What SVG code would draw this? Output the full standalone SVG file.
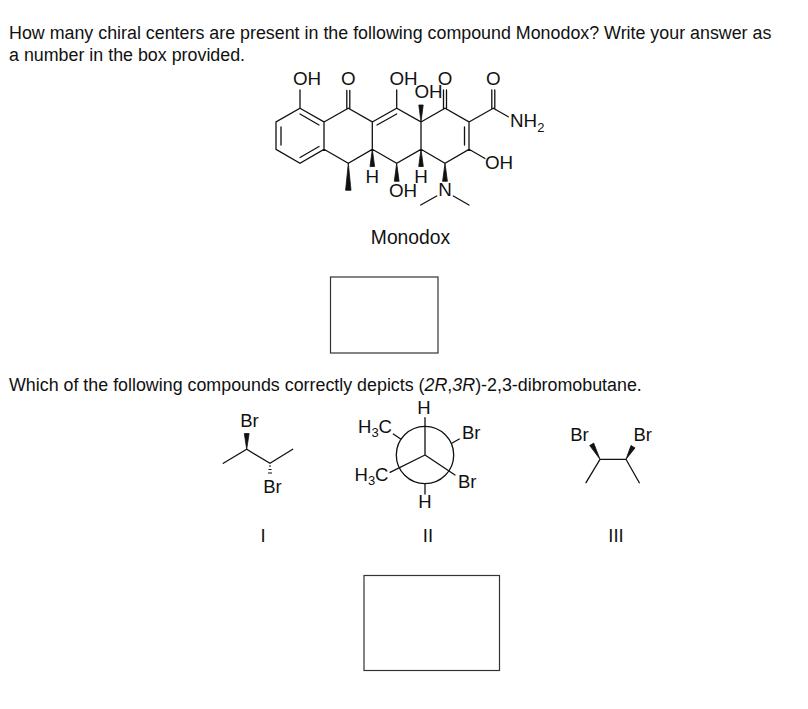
<svg xmlns="http://www.w3.org/2000/svg" width="808" height="709" viewBox="0 0 808 709">
<style>
text{font-family:"Liberation Sans",Arial,sans-serif;font-size:16px;fill:#111}
.q{font-size:17.85px}
.c{text-anchor:middle}
.a{font-size:18.8px}
.b{font-size:18.5px}
.m{font-size:19.3px}
.l{fill:none;stroke:#111;stroke-width:1.3;stroke-linecap:round}
.w{fill:#111;stroke:#111;stroke-width:0.8;stroke-linejoin:round}
.box{fill:#fff;stroke:#333;stroke-width:1.2}
</style>
<rect width="808" height="709" fill="#fff"/>
<g id="question-1"><text class="q" x="9" y="39">How many chiral centers are present in the following compound Monodox? Write your answer as</text><text class="q" x="9" y="61">a number in the box provided.</text></g>
<g id="monodox">
<path class="l" d="M300 108.300L324 122L324 149.300L300 163.300L276 149.300L276 122ZM300 114L319 125M281 127V145M300 157.500L319 146.500M300 108.300V90M324 122L348.300 108.300L372.300 122L372.300 149.300L348.300 163.300L324 149.300M346.800 108.300V90.500M349.800 108.300V90.500M372.300 122L396.700 108.300L421 122L421 149.300L396.700 163.300L372.300 149.300M377 125L396.700 114M396.700 108.300V90M421 122L445 108.300L469 122L469 149.300L445 163.300L421 149.300M443.500 108.300V90M446.500 108.300V90M464.500 127V145M469 122L493.300 108.300M491.800 108.300V90M494.800 108.300V90M493.300 108.300L508.300 116.700M469 149.300L485 158.500M420.700 205L436.700 196M453.300 196L469 205"/>
<path class="w" d="M348.300 163.300L345.600 190.300H351ZM372.300 149.300L370 166.500H374.600ZM396.700 163.300L394.300 181.300H399.100ZM421 149.300L418.700 166.500H423.300ZM445 163.300L442.600 181.300H447.400ZM421 122L418.800 105H423.200Z"/>
<text class="a c" x="307" y="84.500">OH</text><text class="a c" x="348.300" y="84.500">O</text><text class="a c" x="403.500" y="84.500">OH</text><text class="a c" x="428.500" y="97.500">OH</text><text class="a c" x="445" y="84.500">O</text><text class="a c" x="493.300" y="84.500">O</text>
<text class="a" x="510" y="127">NH<tspan dy="5" font-size="13">2</tspan></text><text class="a" x="485" y="169">OH</text><text class="a c" x="372.300" y="182.500">H</text><text class="a c" x="421" y="182.500">H</text><text class="a c" x="403" y="196.500">OH</text><text class="a c" x="445" y="196">N</text>
</g>
<g id="label-monodox"><text class="m c" x="410.500" y="244">Monodox</text></g>
<g id="answer-box-1"><rect class="box" x="330.500" y="277" width="107.500" height="76"/></g>
<g id="question-2"><text class="q" x="9" y="391">Which of the following compounds correctly depicts (<tspan font-style="italic">2R</tspan>,<tspan font-style="italic">3R</tspan>)-2,3-dibromobutane.</text></g>
<g id="compound-i">
<path class="l" d="M223.300 463.300L246.700 449.300L270 463.300L292.700 449.300"/>
<path class="w" d="M246.700 449.300L244.300 433.500H249.100Z"/>
<path d="M269 466H271M268.500 469.500H271.500M268 473H272" stroke="#111" stroke-width="1.200" fill="none"/>
<text class="b c" x="249.500" y="427">Br</text><text class="b c" x="272.500" y="493">Br</text><text class="b c" x="263" y="541.500">I</text>
</g>
<g id="compound-ii">
<circle class="l" cx="425" cy="455" r="28.700"/>
<path class="l" d="M425 455V417.700M425 455L390 472.300M425 455L455 475M425 484.300V494M393.300 434L400.700 439M451.700 443.300L459.300 439"/>
<text class="b c" x="424" y="413.500">H</text><text class="b c" x="425" y="508">H</text><text class="b" x="358" y="433">H<tspan dy="4" font-size="13">3</tspan><tspan dy="-4">C</tspan></text><text class="b" x="354.500" y="480.500">H<tspan dy="4" font-size="13">3</tspan><tspan dy="-4">C</tspan></text><text class="b" x="462" y="439">Br</text><text class="b" x="458" y="487.500">Br</text><text class="b c" x="428" y="541.500">II</text>
</g>
<g id="compound-iii">
<path class="l" d="M586 482.700L600 459.300H626L639.300 482.700"/>
<path class="w" d="M600 459.300L589.700 445.500L593.700 443.100ZM626 459.300L631 445.500L635 447.900Z"/>
<text class="b c" x="579.500" y="441">Br</text><text class="b c" x="642.700" y="441">Br</text><text class="b c" x="616" y="541.500">III</text>
</g>
<g id="answer-box-2"><rect class="box" x="364" y="575.500" width="135.500" height="95"/></g>
<g id="connectors"></g>
</svg>
